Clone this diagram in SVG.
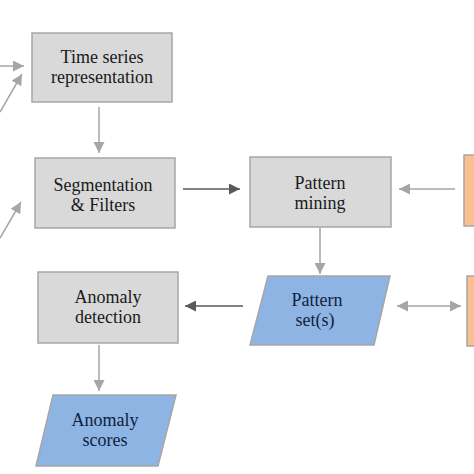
<svg xmlns="http://www.w3.org/2000/svg" width="474" height="474" viewBox="0 0 474 474">
<defs>
<style>
.box{fill:#d9d9d9;stroke:#a6a6a6;stroke-width:1.5}
.data{fill:#8eb4e3;stroke:#a6a6a6;stroke-width:1.5}
.ext{fill:#fac090;stroke:#a6a6a6;stroke-width:1.5}
.t{font-family:"Liberation Serif","DejaVu Serif",serif;font-size:18px;fill:#1a1a1a;text-anchor:middle}
.td{fill:#0f1f3d}
.c{fill:none;stroke:#a6a6a6;stroke-width:1.5}
.cd{fill:none;stroke:#595959;stroke-width:1.5}
</style>
<marker id="ah" viewBox="0 0 10 10" refX="10" refY="5" markerWidth="11" markerHeight="11" markerUnits="userSpaceOnUse" orient="auto-start-reverse">
<path d="M0,0 L10,5 L0,10 Z" fill="#a6a6a6"/>
</marker>
<marker id="ahd" viewBox="0 0 10 10" refX="10" refY="5" markerWidth="11" markerHeight="11" markerUnits="userSpaceOnUse" orient="auto">
<path d="M0,0 L10,5 L0,10 Z" fill="#595959"/>
</marker>
</defs>
<rect width="474" height="474" fill="#ffffff"/>
<g id="connectors">
<line class="c" x1="0" y1="66" x2="24" y2="66" marker-end="url(#ah)"/>
<line class="c" x1="0" y1="112" x2="22" y2="74" marker-end="url(#ah)"/>
<line class="c" x1="0" y1="238" x2="21" y2="202" marker-end="url(#ah)"/>
<line class="c" x1="99" y1="107" x2="99" y2="153" marker-end="url(#ah)"/>
<line class="cd" x1="183" y1="189" x2="240" y2="189" marker-end="url(#ahd)"/>
<line class="c" x1="455" y1="189" x2="399" y2="189" marker-end="url(#ah)"/>
<line class="c" x1="320" y1="227" x2="320" y2="274" marker-end="url(#ah)"/>
<line class="c" x1="397" y1="306" x2="461" y2="306" marker-start="url(#ah)" marker-end="url(#ah)"/>
<line class="cd" x1="243" y1="306" x2="185" y2="306" marker-end="url(#ahd)"/>
<line class="c" x1="99" y1="345" x2="99" y2="391" marker-end="url(#ah)"/>
</g>
<g id="time-series">
<rect class="box" x="32" y="33" width="140" height="69"/>
<text class="t" x="102" y="63">Time series</text>
<text class="t" x="102" y="83">representation</text>
</g>
<g id="segmentation">
<rect class="box" x="35" y="158" width="140" height="70"/>
<text class="t" x="103" y="191">Segmentation</text>
<text class="t" x="103" y="211">&amp; Filters</text>
</g>
<g id="pattern-mining">
<rect class="box" x="250" y="157" width="141" height="70"/>
<text class="t" x="320" y="189">Pattern</text>
<text class="t" x="320" y="209">mining</text>
</g>
<g id="ext1">
<rect class="ext" x="464" y="155" width="20" height="71"/>
</g>
<g id="pattern-sets">
<polygon class="data" points="268,276 390,276 374,345 250,345"/>
<text class="t td" x="317" y="306">Pattern</text>
<text class="t td" x="315" y="326">set(s)</text>
</g>
<g id="ext2">
<rect class="ext" x="467" y="276" width="20" height="70"/>
</g>
<g id="anomaly-detection">
<rect class="box" x="38" y="272" width="140" height="71"/>
<text class="t" x="108" y="303">Anomaly</text>
<text class="t" x="108" y="323">detection</text>
</g>
<g id="anomaly-scores">
<polygon class="data" points="53,395 176,395 158,466 36,466"/>
<text class="t td" x="105" y="426">Anomaly</text>
<text class="t td" x="105" y="446">scores</text>
</g>
</svg>
